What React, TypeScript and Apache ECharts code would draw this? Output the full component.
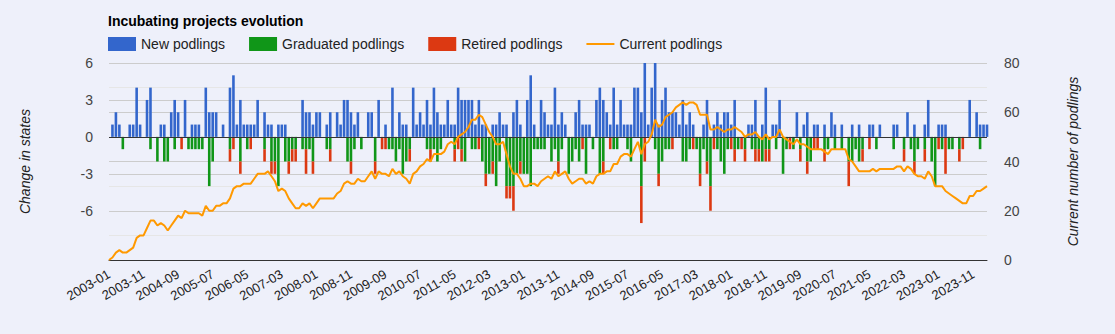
import React, { useEffect, useRef } from "react";
import * as echarts from "echarts";

// Months 2003-01 .. 2024-03
const START_YEAR = 2003;
const MONTH_COUNT = 255;
const months: string[] = [];
for (let i = 0; i < MONTH_COUNT; i++) {
  const y = START_YEAR + Math.floor(i / 12);
  const m = (i % 12) + 1;
  months.push(`${y}-${m < 10 ? "0" + m : m}`);
}

const newPodlings = [
  0, 1, 2, 1, 0, 0, 1, 1, 4, 1,
  0, 3, 4, 0, 0, 1, 1, 0, 2, 3,
  2, 0, 3, 0, 1, 1, 1, 0, 4, 2,
  2, 2, 0, 1, 0, 4, 5, 1, 3, 1,
  1, 1, 1, 3, 0, 2, 1, 1, 0, 1,
  1, 1, 0, 0, 0, 0, 3, 2, 2, 1,
  2, 2, 0, 1, 2, 0, 2, 1, 3, 3,
  2, 1, 2, 0, 0, 2, 2, 0, 3, 0,
  1, 0, 4, 0, 2, 1, 1, 0, 4, 1,
  2, 1, 3, 1, 4, 2, 1, 1, 3, 1,
  1, 4, 3, 3, 3, 3, 1, 3, 1, 1,
  0, 1, 1, 2, 1, 1, 0, 2, 3, 1,
  0, 3, 5, 1, 0, 3, 2, 1, 1, 4,
  1, 2, 1, 0, 0, 2, 3, 1, 1, 1,
  0, 3, 4, 3, 2, 1, 4, 1, 3, 1,
  1, 1, 4, 4, 2, 6, 1, 4, 6, 1,
  3, 4, 2, 2, 2, 1, 3, 1, 2, 1,
  0, 0, 1, 3, 0, 1, 2, 1, 2, 2,
  1, 3, 0, 0, 0, 1, 1, 3, 0, 1,
  4, 0, 1, 1, 3, 0, 0, 0, 0, 2,
  0, 1, 2, 0, 1, 1, 0, 1, 0, 2,
  1, 0, 1, 0, 0, 1, 0, 1, 0, 0,
  1, 1, 0, 1, 0, 0, 0, 1, 1, 0,
  0, 2, 0, 1, 0, 0, 1, 3, 0, 0,
  1, 1, 1, 0, 0, 0, 0, 0, 0, 3,
  0, 2, 1, 1, 1,
];

const graduatedPodlings = [
  0, 0, 0, 0, 1, 0, 0, 0, 0, 0,
  0, 0, 1, 0, 2, 0, 2, 2, 0, 1,
  0, 0, 0, 1, 1, 1, 1, 1, 0, 4,
  2, 0, 0, 0, 0, 1, 0, 0, 2, 0,
  1, 0, 0, 0, 0, 1, 0, 2, 2, 4,
  0, 2, 2, 1, 1, 0, 1, 1, 1, 2,
  0, 0, 0, 1, 1, 0, 0, 0, 0, 2,
  2, 1, 0, 1, 0, 0, 0, 2, 0, 0,
  0, 1, 1, 2, 1, 3, 2, 1, 0, 0,
  0, 0, 1, 1, 1, 2, 1, 0, 0, 0,
  1, 0, 1, 2, 0, 1, 1, 0, 2, 3,
  3, 2, 4, 2, 0, 4, 4, 4, 3, 2,
  3, 3, 4, 1, 1, 1, 1, 0, 2, 1,
  2, 1, 0, 3, 2, 1, 2, 0, 3, 0,
  1, 0, 3, 2, 0, 0, 1, 1, 0, 0,
  1, 2, 0, 0, 4, 0, 0, 0, 1, 3,
  2, 1, 1, 0, 0, 0, 2, 2, 1, 0,
  1, 3, 1, 2, 4, 0, 1, 2, 3, 1,
  0, 1, 1, 0, 1, 0, 1, 1, 1, 2,
  1, 1, 0, 1, 0, 3, 1, 0, 1, 0,
  1, 0, 2, 2, 0, 0, 0, 1, 1, 0,
  1, 0, 1, 0, 2, 2, 1, 2, 1, 0,
  0, 0, 1, 0, 0, 0, 0, 1, 0, 0,
  1, 0, 1, 2, 1, 0, 1, 0, 2, 4,
  0, 1, 0, 1, 1, 0, 1, 0, 0, 0,
  0, 0, 1, 0, 0,
];

const retiredPodlings = [
  0, 0, 0, 0, 0, 0, 0, 0, 0, 0,
  0, 0, 0, 0, 0, 0, 0, 0, 0, 0,
  0, 1, 0, 0, 0, 0, 0, 0, 0, 0,
  0, 0, 0, 0, 0, 1, 1, 0, 1, 0,
  0, 1, 0, 0, 0, 1, 0, 1, 1, 0,
  0, 0, 1, 1, 1, 0, 0, 2, 0, 1,
  0, 0, 0, 0, 1, 0, 0, 0, 0, 0,
  1, 0, 0, 0, 0, 0, 0, 1, 0, 1,
  1, 0, 0, 0, 0, 0, 0, 1, 0, 0,
  0, 0, 0, 1, 0, 0, 0, 0, 0, 0,
  1, 1, 1, 0, 0, 0, 0, 1, 0, 1,
  0, 1, 0, 0, 0, 1, 1, 2, 0, 1,
  0, 0, 0, 0, 0, 0, 0, 0, 0, 0,
  1, 0, 0, 0, 0, 0, 0, 1, 0, 0,
  0, 0, 0, 1, 0, 1, 0, 0, 0, 0,
  0, 0, 0, 0, 3, 2, 0, 0, 0, 1,
  0, 0, 0, 1, 0, 0, 0, 0, 0, 1,
  0, 1, 0, 1, 2, 1, 0, 0, 0, 0,
  1, 1, 0, 1, 1, 0, 0, 1, 1, 0,
  1, 1, 0, 0, 0, 0, 0, 1, 0, 0,
  1, 0, 1, 0, 1, 1, 0, 1, 0, 0,
  0, 0, 0, 0, 2, 0, 0, 0, 1, 0,
  1, 0, 0, 0, 0, 0, 0, 0, 0, 0,
  1, 0, 0, 1, 0, 0, 1, 0, 0, 0,
  1, 0, 3, 0, 0, 0, 1, 1, 0, 0,
  0, 0, 0, 0, 0,
];

const currentPodlings = [
  0, 1, 3, 4, 3, 3, 4, 5, 9, 10,
  10, 13, 16, 16, 14, 15, 14, 12, 14, 16,
  18, 17, 20, 19, 19, 19, 19, 18, 22, 20,
  20, 22, 22, 23, 23, 25, 29, 30, 30, 31,
  31, 31, 33, 35, 35, 35, 36, 34, 32, 28,
  29, 28, 25, 23, 21, 21, 23, 22, 23, 21,
  23, 25, 25, 25, 25, 25, 27, 28, 31, 32,
  31, 31, 33, 32, 32, 34, 36, 33, 36, 35,
  35, 34, 37, 35, 36, 34, 33, 31, 35, 36,
  38, 39, 41, 40, 43, 43, 43, 44, 47, 48,
  47, 50, 51, 52, 54, 57, 57, 59, 58, 55,
  52, 50, 47, 47, 48, 43, 38, 35, 35, 33,
  30, 30, 31, 31, 30, 32, 33, 34, 33, 36,
  34, 35, 36, 33, 31, 32, 33, 33, 31, 32,
  31, 34, 35, 35, 36, 36, 39, 39, 42, 43,
  43, 42, 45, 48, 43, 47, 48, 51, 57, 54,
  55, 58, 59, 60, 62, 63, 64, 63, 64, 64,
  63, 59, 59, 59, 53, 53, 54, 53, 52, 53,
  53, 54, 53, 52, 50, 51, 51, 52, 50, 49,
  51, 49, 50, 50, 53, 50, 49, 48, 47, 49,
  47, 47, 46, 45, 45, 45, 45, 44, 43, 45,
  45, 45, 45, 45, 41, 40, 38, 36, 36, 36,
  36, 37, 36, 37, 37, 37, 37, 37, 38, 38,
  36, 38, 37, 35, 34, 34, 33, 36, 34, 30,
  30, 30, 28, 27, 26, 25, 24, 23, 23, 26,
  26, 28, 28, 29, 30,
];

const leftTickLabels = [6, 3, 0, -3, -6];
const rightTickLabels = [0, 20, 40, 60, 80];

const FONT = "'Liberation Sans', Arial, sans-serif";
const BG = "#eef0fa";
const GRID_MAJOR = "#cccccc";
const GRID_MINOR = "#e6e6e6";
const NONE = "rgba(0,0,0,0)";
const LINE_ICON = "path://M0,0 M28,14 M0,6 L28,6 L28,8 L0,8 Z";

// Left axis runs -10..6 with 1-unit ticks; only every 3rd (from -6) gets a line
const leftSplitColors: string[] = [];
for (let k = 0; k < 16; k++) {
  leftSplitColors.push(k === 0 || k === 4 || k === 7 || k === 13 ? GRID_MAJOR : NONE);
}

export default function App() {
  const ref = useRef<HTMLDivElement>(null);

  useEffect(() => {
    if (!ref.current) return;
    const chart = echarts.init(ref.current, undefined, { renderer: "svg" });
    chart.setOption({
      animation: false,
      backgroundColor: BG,
      textStyle: { fontFamily: FONT },
      title: {
        text: "Incubating projects evolution",
        left: 103,
        top: 9,
        textStyle: { fontSize: 14, fontWeight: "bold", color: "#000", fontFamily: FONT },
      },
      legend: {
        left: 103,
        top: 32,
        itemWidth: 28,
        itemHeight: 14,
        itemGap: 24,
        textStyle: { fontSize: 14, color: "#222", fontFamily: FONT },
        data: [
          { name: "New podlings", icon: "rect" },
          { name: "Graduated podlings", icon: "rect" },
          { name: "Retired podlings", icon: "rect" },
          { name: "Current podlings", icon: LINE_ICON },
        ],
      },
      grid: { left: 109, right: 128, top: 63, bottom: 74 },
      xAxis: {
        type: "category",
        data: months,
        boundaryGap: false,
        axisLine: { onZero: false, lineStyle: { color: "#333", width: 1 } },
        axisTick: { show: false },
        axisLabel: {
          interval: 9,
          rotate: 30,
          fontSize: 13,
          color: "#222",
          margin: 13,
          fontFamily: FONT,
        },
        splitLine: { show: false },
      },
      yAxis: [
        {
          type: "value",
          min: -10,
          max: 6,
          interval: 1,
          position: "left",
          name: "Change in states",
          nameLocation: "middle",
          nameRotate: 90,
          nameGap: 77,
          nameTextStyle: { fontSize: 14, fontStyle: "italic", color: "#222", fontFamily: FONT },
          axisLine: { show: false },
          axisTick: { show: false },
          axisLabel: {
            fontSize: 14,
            color: "#444",
            margin: 16,
            fontFamily: FONT,
            formatter: (v: number) => (leftTickLabels.indexOf(v) >= 0 ? String(v) : ""),
          },
          splitLine: { show: true, lineStyle: { color: leftSplitColors, width: 1 } },
        },
        {
          type: "value",
          min: 0,
          max: 80,
          interval: 10,
          position: "right",
          name: "Current number of podlings",
          nameLocation: "middle",
          nameRotate: 90,
          nameGap: 79,
          nameTextStyle: { fontSize: 14, fontStyle: "italic", color: "#222", fontFamily: FONT },
          axisLine: { show: false },
          axisTick: { show: false },
          axisLabel: {
            fontSize: 14,
            color: "#444",
            margin: 17,
            fontFamily: FONT,
            formatter: (v: number) => (rightTickLabels.indexOf(v) >= 0 ? String(v) : ""),
          },
          splitLine: { show: true, lineStyle: { color: [GRID_MAJOR, GRID_MINOR], width: 1 } },
        },
      ],
      series: [
        {
          name: "New podlings",
          type: "bar",
          stack: "change",
          yAxisIndex: 0,
          barWidth: 2.6,
          itemStyle: { color: "#3366cc" },
          data: newPodlings,
          markLine: {
            silent: true,
            symbol: "none",
            label: { show: false },
            lineStyle: { color: "#333", width: 1, type: "solid" },
            data: [{ yAxis: 0 }],
          },
        },
        {
          name: "Graduated podlings",
          type: "bar",
          stack: "change",
          yAxisIndex: 0,
          barWidth: 2.6,
          itemStyle: { color: "#109618" },
          data: graduatedPodlings.map((v) => -v),
        },
        {
          name: "Retired podlings",
          type: "bar",
          stack: "change",
          yAxisIndex: 0,
          barWidth: 2.6,
          itemStyle: { color: "#dc3912" },
          data: retiredPodlings.map((v) => -v),
        },
        {
          name: "Current podlings",
          type: "line",
          yAxisIndex: 1,
          symbol: "none",
          z: 10,
          lineStyle: { color: "#ff9900", width: 2 },
          itemStyle: { color: "#ff9900" },
          data: currentPodlings,
        },
      ],
    });
    return () => chart.dispose();
  }, []);

  return (
    <div
      ref={ref}
      style={{ position: "fixed", left: 0, top: 0, width: 1115, height: 334, background: BG }}
    />
  );
}
